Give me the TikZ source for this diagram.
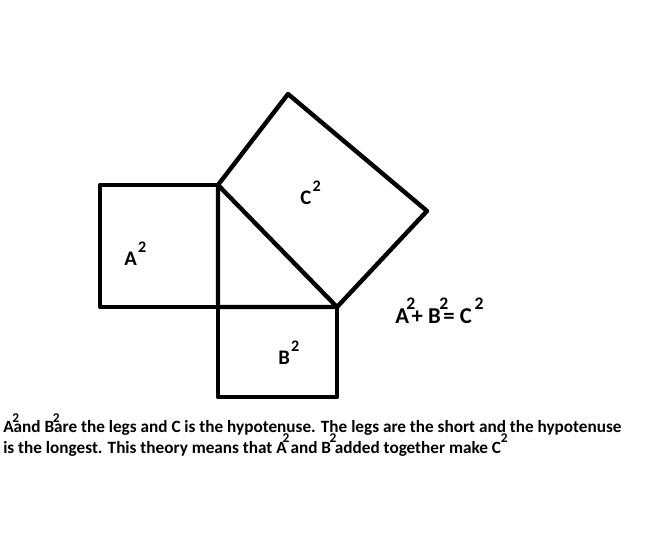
\documentclass[tikz,border=0pt]{standalone}
\usepackage{fontspec}
\setmainfont{Carlito}
\newcommand{\sqtwo}[1][0pt]{\makebox[0pt][l]{\hspace{#1}\raisebox{0.6em}{\scalebox{0.78}{2}}}}
\tikzstyle{side} = [draw, line width=3.3pt, line cap=round, line join=round]
\tikzstyle{txt} = [anchor=base west, inner sep=0pt, font=\bfseries]

\begin{document}
\begin{tikzpicture}[x=0.75pt,y=-0.75pt]
		\useasboundingbox (0,0) rectangle (663,556);
		
		%corners
		\coordinate (top) at (218,185);
		\coordinate (right) at (337,307);
		\coordinate (corner) at (218,307);
		\coordinate (a1) at (100,185);
		\coordinate (a2) at (100,307);
		\coordinate (b1) at (218,397);
		\coordinate (b2) at (337,397);
		\coordinate (c1) at (288,94);
		\coordinate (c2) at (427,211);
		%triangle
		\draw[side] (top) -- (corner) -- (right) -- cycle;
		%squares
		\draw[side] (top) -- (a1) -- (a2) -- (corner);
		\draw[side] (corner) -- (b1) -- (b2) -- (right);
		\draw[side] (top) -- (c1) -- (c2) -- (right);
		%labels
		\node[txt,font=\bfseries\fontsize{15.5}{18}\selectfont](asq) at (124,265) {A\sqtwo[1pt]};
		\node[txt,font=\bfseries\fontsize{15.5}{18}\selectfont](bsq) at (278,364) {B\sqtwo[1pt]};
		\node[txt,font=\bfseries\fontsize{15.5}{18}\selectfont](csq) at (300,204) {C\sqtwo[1pt]};
		\node[txt,font=\bfseries\fontsize{17}{20}\selectfont](law) at (395,323) {A\sqtwo[-2pt]\kern2pt+ B\sqtwo[-1pt]\kern2pt= C\sqtwo[2pt]};
		%text
		\node[txt,font=\bfseries\fontsize{12.9}{15}\selectfont](line1) at (3,432.5) {A\sqtwo[-1pt]and B\sqtwo[-1pt]are the legs and C is the hypotenuse. The legs are the short and the hypotenuse};
		\node[txt,font=\bfseries\fontsize{12.9}{15}\selectfont](line2) at (3,453) {is the longest. This theory means that A\sqtwo[-3pt] and B\sqtwo[-1pt] added together make C\sqtwo[0pt]};
\end{tikzpicture}
\end{document}
